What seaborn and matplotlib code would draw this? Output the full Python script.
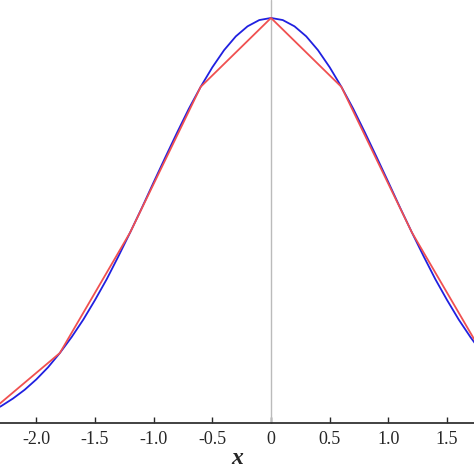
import seaborn as sns
import matplotlib.pyplot as plt

half = [1.0, 0.995, 0.980, 0.956, 0.923, 0.882, 0.835, 0.783, 0.726, 0.667, 0.607,
        0.546, 0.487, 0.430, 0.375, 0.325, 0.278, 0.236, 0.198, 0.164, 0.135,
        0.110, 0.089, 0.071, 0.056]
curve_x = [round(-0.1 * i, 1) for i in range(24, 0, -1)] + [round(0.1 * i, 1) for i in range(0, 19)]
curve_y = half[24:0:-1] + half[0:19]

node_x = [-2.4, -1.8, -1.2, -0.6, 0.0, 0.6, 1.2, 1.8, 2.4]
node_y = [0.056, 0.198, 0.487, 0.835, 1.0, 0.835, 0.487, 0.198, 0.056]

sns.set_style("white")
plt.rcParams['font.family'] = ['Liberation Serif', 'DejaVu Serif']

fig = plt.figure(figsize=(4.74, 4.74), dpi=100)
ax = fig.add_axes([0, 0.108, 1, 0.892])
ax.axvline(0, color='#bbbbbb', lw=1)
sns.lineplot(x=curve_x, y=curve_y, color='#2020e0', lw=1.3, ax=ax)
sns.lineplot(x=node_x, y=node_y, color='#f05050', lw=1.3, ax=ax)
ax.set_xlim(-2.31, 1.73)
ax.set_ylim(0.031, 1.043)
ax.set_xticks([-2, -1.5, -1, -0.5, 0, 0.5, 1, 1.5])
ax.set_xticklabels(['-2.0', '-1.5', '-1.0', '-0.5', '0', '0.5', '1.0', '1.5'], fontsize=13)
ax.tick_params(axis='x', direction='in', length=4, width=1, pad=6, bottom=True)
ax.set_yticks([])
for s in ['top', 'left', 'right']:
    ax.spines[s].set_visible(False)
ax.spines['bottom'].set_linewidth(1.3)
ax.spines['bottom'].set_color('#333333')
ax.set_xlabel('x', fontsize=17, style='italic', weight='bold', labelpad=0)
fig.savefig('out.png', dpi=100)
